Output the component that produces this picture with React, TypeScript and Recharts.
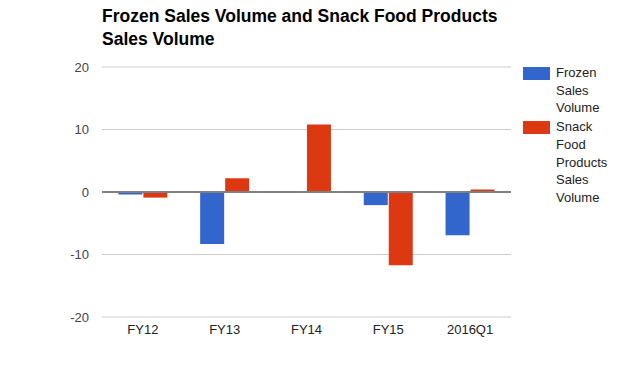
import React from "react";
import { BarChart, Bar, XAxis, YAxis, CartesianGrid, ReferenceLine } from "recharts";

const categories = ["FY12", "FY13", "FY14", "FY15", "2016Q1"];
const frozenSales = [-0.4, -8.3, 0.15, -2.1, -6.9];
const snackSales = [-0.9, 2.2, 10.8, -11.7, 0.4];
const yTicks = [-20, -10, 0, 10, 20];
const seriesNames = ["Frozen Sales Volume", "Snack Food Products Sales Volume"];
const legendLines = [["Frozen", "Sales", "Volume"], ["Snack", "Food", "Products", "Sales", "Volume"]];
const colors = ["#3366cc", "#dc3912"];

const data = categories.map((c, i) => ({ name: c, frozen: frozenSales[i], snack: snackSales[i] }));

const FONT = "'Liberation Sans', Arial, sans-serif";

const LegendBox = () => (
  <div style={{ position: "absolute", left: 523, top: 66, fontFamily: FONT, fontSize: 13, color: "#222" }}>
    {legendLines.map((lines, i) => (
      <div key={i} style={{ display: "flex", alignItems: "flex-start", marginBottom: 3 }}>
        <div style={{ width: 27, height: 13, background: colors[i], marginTop: 1, marginRight: 6, flexShrink: 0 }} />
        <div style={{ lineHeight: "17.7px", marginTop: -2 }}>
          {lines.map((l, j) => (
            <div key={j}>{l}</div>
          ))}
        </div>
      </div>
    ))}
  </div>
);

export default function App() {
  return (
    <div style={{ position: "absolute", left: 0, top: 0, width: 626, height: 377, background: "#fff" }}>
      <div
        style={{
          position: "absolute",
          left: 102,
          top: 5,
          fontFamily: FONT,
          fontWeight: "bold",
          fontSize: 17.5,
          lineHeight: "23px",
          color: "#000",
          zIndex: 2,
        }}
      >
        <div>Frozen Sales Volume and Snack Food Products</div>
        <div>Sales Volume</div>
      </div>
      <BarChart
        width={626}
        height={377}
        data={data}
        margin={{ top: 67, right: 115, left: 0, bottom: 30 }}
        barCategoryGap="20%"
        barGap={1}
      >
        <CartesianGrid vertical={false} stroke="#cccccc" />
        <XAxis
          dataKey="name"
          axisLine={false}
          tickLine={false}
          tickSize={0}
          tickMargin={8}
          height={30}
          tick={{ fill: "#222", fontSize: 13, fontFamily: FONT }}
        />
        <YAxis
          domain={[-20, 20]}
          ticks={yTicks}
          axisLine={false}
          tickLine={false}
          tickSize={0}
          tickMargin={13}
          width={102}
          interval={0}
          tick={{ fill: "#444", fontSize: 13, fontFamily: FONT }}
        />
        <Bar dataKey="frozen" name={seriesNames[0]} fill={colors[0]} isAnimationActive={false} />
        <Bar dataKey="snack" name={seriesNames[1]} fill={colors[1]} isAnimationActive={false} />
        <ReferenceLine y={0} stroke="#808080" strokeWidth={2} />
      </BarChart>
      <LegendBox />
    </div>
  );
}
